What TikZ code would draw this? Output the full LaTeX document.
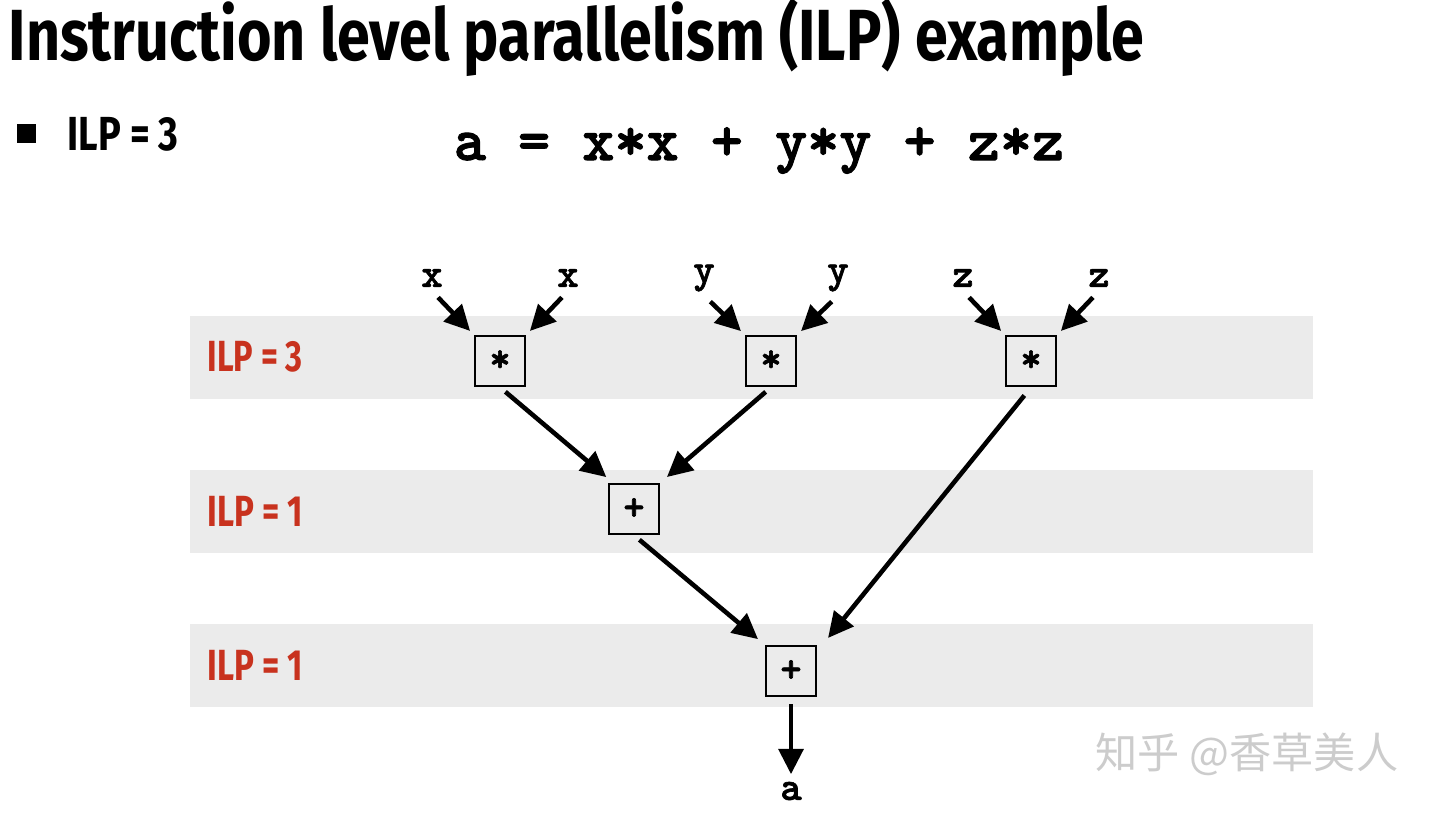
\documentclass[tikz,border=0pt]{standalone}
\usepackage{fontspec}
\usepackage{graphicx}
\setmainfont{Fira Sans}
\newfontfamily\cjk{Noto Sans CJK SC}
\newfontfamily\codefont{lmmonolt10-bold}[Extension=.otf, FakeBold=1.6]
\usetikzlibrary{arrows.meta}

\definecolor{ilpred}{RGB}{200,50,30}
\definecolor{bandgray}{RGB}{235,235,235}
\tikzset{
	opbox/.style = {draw, line width=0.7pt, minimum size=0.5cm, inner sep=0pt, font=\codefont\fontsize{11.5}{13}\selectfont},
	var/.style = {font=\codefont\fontsize{11.5}{13}\selectfont, inner sep=1pt},
	ilp/.style = {anchor=west, inner sep=0pt, text=ilpred, font=\bfseries\fontsize{12.4}{14}\selectfont},
	arr/.style = {line width=1.3pt, -{Triangle[length=7.2pt,width=7pt]}}
}

\begin{document}
\begin{tikzpicture} [x=0.01cm, y=-0.01cm]
	\useasboundingbox (0,0) rectangle (1440,814);
	% title and top line
	\node [anchor=base west, inner sep=0pt] (title) at (8,60) {\resizebox{11.35cm}{\height}{\bfseries\fontsize{20.6}{24}\selectfont Instruction level parallelism (ILP) example}};
	\fill (17,124) rectangle (36,143);
	\node [anchor=base west, inner sep=0pt] (ilptop) at (67,150) {\resizebox{1.11cm}{\height}{\bfseries\fontsize{13.6}{16}\selectfont ILP = 3}};
	\node [anchor=base, inner sep=0pt, font=\codefont\fontsize{17.4}{20}\selectfont] (eq) at (759,160) {a = x*x + y*y + z*z};
	% bands
	\foreach \y/\n in {316/3, 470/1, 624/1} {
		\fill [bandgray] (190,\y) rectangle (1313,\y+83);
		\node [ilp] at (207,\y+41) {\resizebox{0.95cm}{\height}{ILP = \n}};
	}
	% operations
	\node [opbox] (m1) at (500,361) {*};
	\node [opbox] (m2) at (771,361) {*};
	\node [opbox] (m3) at (1031,361) {*};
	\node [opbox] (p1) at (634,509) {+};
	\node [opbox] (p2) at (791,671) {+};
	% inputs
	\node [var] (x1) at (432,278) {x};
	\node [var] (x2) at (568,278) {x};
	\node [var] (y1) at (704,278) {y};
	\node [var] (y2) at (838,278) {y};
	\node [var] (z1) at (963,278) {z};
	\node [var] (z2) at (1099,278) {z};
	\node [var] (a) at (791,791) {a};
	% edges
	\draw [arr, shorten <=2.5pt, shorten >=1.5pt] (x1.south) -- (m1.north west);
	\draw [arr, shorten <=2.5pt, shorten >=1.5pt] (x2.south) -- (m1.north east);
	\draw [arr, shorten <=2.5pt, shorten >=1.5pt] (y1.south) -- (m2.north west);
	\draw [arr, shorten <=2.5pt, shorten >=1.5pt] (y2.south) -- (m2.north east);
	\draw [arr, shorten <=2.5pt, shorten >=1.5pt] (z1.south) -- (m3.north west);
	\draw [arr, shorten <=2.5pt, shorten >=1.5pt] (z2.south) -- (m3.north east);
	\draw [arr, shorten <=2pt, shorten >=2.5pt] (m1.south) -- ([xshift=1.5pt]p1.north west);
	\draw [arr, shorten <=2pt, shorten >=2.5pt] (m2.south) -- (p1.north east);
	\draw [arr, shorten <=2pt, shorten >=2.5pt] (p1.south) -- (p2.north west);
	\draw [arr, shorten <=3pt, shorten >=2.5pt] (m3.south) -- ([xshift=1.5pt]p2.north east);
	\draw [arr, shorten <=2pt, shorten >=1pt] (p2.south) -- (a);
	% watermark
	\node [anchor=west, inner sep=0pt, text=black!20, font=\cjk\fontsize{12}{14}\selectfont] (mark) at (1095,754) {知乎 @香草美人};
\end{tikzpicture}
\end{document}
